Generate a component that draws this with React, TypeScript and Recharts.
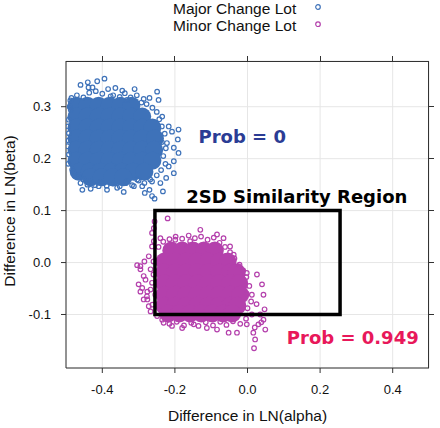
import React from "react";
import {
  ScatterChart,
  Scatter,
  XAxis,
  YAxis,
  CartesianGrid,
  ReferenceArea,
  ReferenceDot,
} from "recharts";

const seriesNames = ["Major Change Lot", "Minor Change Lot"];
const seriesColors = ["#3e72b9", "#b440ac"];

const xTicks = [-0.4, -0.2, 0, 0.2, 0.4];
const yTicks = [-0.1, 0, 0.1, 0.2, 0.3];
const xDomain = [-0.5, 0.5];
const yDomain = [-0.203, 0.388];

// dense, overplotted middle of each cloud
const majorCore: [number, number][] = [
  [-0.471, 0.302], [-0.441, 0.302], [-0.41, 0.302], [-0.38, 0.302], [-0.35, 0.302], [-0.32, 0.302],
  [-0.471, 0.281], [-0.441, 0.281], [-0.41, 0.281], [-0.38, 0.281], [-0.35, 0.281], [-0.32, 0.281], [-0.29, 0.281],
  [-0.471, 0.26], [-0.441, 0.26], [-0.41, 0.26], [-0.38, 0.26], [-0.35, 0.26], [-0.32, 0.26], [-0.29, 0.26], [-0.262, 0.26],
  [-0.471, 0.239], [-0.441, 0.239], [-0.41, 0.239], [-0.38, 0.239], [-0.35, 0.239], [-0.32, 0.239], [-0.29, 0.239], [-0.255, 0.239],
  [-0.471, 0.217], [-0.441, 0.217], [-0.41, 0.217], [-0.38, 0.217], [-0.35, 0.217], [-0.32, 0.217], [-0.29, 0.217], [-0.257, 0.217],
  [-0.471, 0.196], [-0.441, 0.196], [-0.41, 0.196], [-0.38, 0.196], [-0.35, 0.196], [-0.32, 0.196], [-0.29, 0.196], [-0.262, 0.196],
  [-0.465, 0.175], [-0.435, 0.175], [-0.405, 0.175], [-0.375, 0.175], [-0.345, 0.175], [-0.314, 0.175], [-0.284, 0.175],
  [-0.432, 0.164], [-0.402, 0.164], [-0.372, 0.164], [-0.342, 0.164],
];

const majorEdge: [number, number][] = [
  [-0.394, 0.354], [-0.414, 0.349], [-0.44, 0.347], [-0.46, 0.342], [-0.364, 0.336], [-0.311, 0.334], [-0.345, 0.331],
  [-0.249, 0.329], [-0.485, 0.317], [-0.286, 0.315], [-0.245, 0.313], [-0.27, 0.317], [-0.332, 0.313], [-0.377, 0.32],
  [-0.235, 0.281], [-0.217, 0.262], [-0.19, 0.256], [-0.208, 0.252], [-0.192, 0.237], [-0.203, 0.221], [-0.19, 0.211],
  [-0.203, 0.195], [-0.217, 0.185], [-0.203, 0.172], [-0.224, 0.163], [-0.24, 0.153], [-0.233, 0.137], [-0.263, 0.128],
  [-0.256, 0.123], [-0.27, 0.14], [-0.29, 0.147], [-0.283, 0.134],
  [-0.341, 0.136], [-0.387, 0.14], [-0.432, 0.142], [-0.455, 0.14], [-0.46, 0.153], [-0.441, 0.15], [-0.41, 0.147],
  [-0.359, 0.144], [-0.313, 0.147],
  [-0.492, 0.208], [-0.496, 0.224], [-0.492, 0.249], [-0.487, 0.294], [-0.492, 0.275], [-0.483, 0.179], [-0.474, 0.166],
  [-0.332, 0.156], [-0.304, 0.16], [-0.263, 0.156], [-0.222, 0.23], [-0.438, 0.337], [-0.427, 0.337],
  [-0.488, 0.312], [-0.47, 0.322], [-0.452, 0.318], [-0.436, 0.327], [-0.418, 0.33], [-0.4, 0.325], [-0.384, 0.334],
  [-0.37, 0.322], [-0.352, 0.319], [-0.338, 0.326], [-0.322, 0.318], [-0.305, 0.322], [-0.292, 0.308], [-0.278, 0.305],
  [-0.262, 0.298], [-0.25, 0.29],
  [-0.243, 0.276], [-0.236, 0.262], [-0.228, 0.248], [-0.236, 0.232], [-0.225, 0.22], [-0.232, 0.205], [-0.226, 0.19],
  [-0.238, 0.178], [-0.25, 0.168],
  [-0.268, 0.16], [-0.284, 0.153], [-0.3, 0.158], [-0.318, 0.149], [-0.335, 0.153], [-0.352, 0.147], [-0.37, 0.152],
  [-0.388, 0.148], [-0.405, 0.155], [-0.42, 0.149], [-0.438, 0.156], [-0.452, 0.16], [-0.468, 0.168], [-0.48, 0.175],
  [-0.494, 0.19], [-0.493, 0.235], [-0.495, 0.262], [-0.49, 0.3],
];

const minorCore: [number, number][] = [
  [-0.21, 0.023], [-0.18, 0.023], [-0.15, 0.023], [-0.12, 0.023], [-0.09, 0.023],
  [-0.229, 0.002], [-0.199, 0.002], [-0.169, 0.002], [-0.138, 0.002], [-0.108, 0.002], [-0.078, 0.002], [-0.055, 0.002],
  [-0.229, -0.019], [-0.199, -0.019], [-0.169, -0.019], [-0.138, -0.019], [-0.108, -0.019], [-0.078, -0.019], [-0.048, -0.019], [-0.03, -0.019],
  [-0.229, -0.04], [-0.199, -0.04], [-0.169, -0.04], [-0.138, -0.04], [-0.108, -0.04], [-0.078, -0.04], [-0.048, -0.04], [-0.023, -0.04],
  [-0.229, -0.062], [-0.199, -0.062], [-0.169, -0.062], [-0.138, -0.062], [-0.108, -0.062], [-0.078, -0.062], [-0.048, -0.062], [-0.02, -0.062],
  [-0.229, -0.083], [-0.199, -0.083], [-0.169, -0.083], [-0.138, -0.083], [-0.108, -0.083], [-0.078, -0.083], [-0.048, -0.083], [-0.028, -0.083],
  [-0.218, -0.098], [-0.188, -0.098], [-0.158, -0.098], [-0.127, -0.098], [-0.097, -0.098], [-0.067, -0.098], [-0.042, -0.098],
];

const minorEdge: [number, number][] = [
  [-0.22, 0.085], [-0.13, 0.063], [-0.256, 0.079], [-0.263, 0.057], [-0.24, 0.047], [-0.199, 0.044], [-0.158, 0.041],
  [-0.084, 0.054], [-0.066, 0.047], [-0.048, 0.031], [-0.038, 0.015], [-0.025, -0.007], [-0.002, -0.02], [0.026, -0.023],
  [0.04, -0.042], [0.044, -0.062], [0.047, -0.09], [0.044, -0.11], [0.049, -0.129], [0.03, -0.119], [0.016, -0.135],
  [0.021, -0.148], [0.018, -0.165], [-0.002, -0.119], [-0.029, -0.135], [-0.052, -0.135], [-0.084, -0.129], [-0.112, -0.126],
  [-0.148, -0.119], [-0.18, -0.126], [-0.208, -0.122], [-0.231, -0.116], [-0.249, -0.103], [-0.258, 0.066],
  [-0.304, -0.005], [-0.295, -0.007], [-0.286, -0.026], [-0.29, -0.049], [-0.277, -0.065], [-0.286, -0.071], [-0.272, -0.084],
  [-0.263, -0.039], [-0.267, -0.013], [-0.272, 0.012], [-0.263, 0.031], [-0.258, 0.041], [-0.295, -0.013], [-0.281, -0.033],
  [-0.267, -0.052], [-0.3, -0.042], [-0.276, -0.071], [-0.262, -0.081], [-0.267, -0.094], [-0.284, 0.002], [-0.259, 0.002],
  [-0.259, -0.023], [-0.276, -0.056], [-0.295, -0.056], [-0.254, -0.062],
  [-0.245, 0.03], [-0.232, 0.04], [-0.215, 0.045], [-0.198, 0.05], [-0.18, 0.046], [-0.162, 0.052], [-0.145, 0.047],
  [-0.128, 0.05], [-0.11, 0.044], [-0.093, 0.048], [-0.077, 0.038], [-0.062, 0.03], [-0.048, 0.02], [-0.036, 0.008],
  [-0.022, -0.004], [-0.012, -0.015],
  [-0.003, -0.028], [0.005, -0.045], [-0.002, -0.06], [0.01, -0.075], [0.0, -0.088], [0.012, -0.1], [-0.004, -0.108],
  [0.012, -0.062], [0.025, -0.08], [0.035, -0.1], [0.02, -0.125], [0.038, -0.115],
  [-0.02, -0.118], [-0.04, -0.113], [-0.058, -0.12], [-0.075, -0.114], [-0.095, -0.121], [-0.115, -0.115], [-0.135, -0.122],
  [-0.155, -0.116], [-0.175, -0.121], [-0.195, -0.114], [-0.215, -0.118], [-0.235, -0.11],
];

const toPoints = (rows: [number, number][]) => rows.map(([x, y]) => ({ x, y }));

const SANS = "'Liberation Sans', Arial, sans-serif";
const BOLD = "'DejaVu Sans', Verdana, sans-serif";
const fmt = (v: number) => v.toFixed(1);

// plot box in page pixels (the chart sits at 0,0)
const plot = { left: 66, top: 61, right: 429, bottom: 368 };
const px = (v: number) => plot.left + ((v - xDomain[0]) / (xDomain[1] - xDomain[0])) * (plot.right - plot.left);
const py = (v: number) => plot.top + ((yDomain[1] - v) / (yDomain[1] - yDomain[0])) * (plot.bottom - plot.top);

const ring = (color: string) => (p: any) => (
  <circle cx={p.cx} cy={p.cy} r={2.3} fill="none" stroke={color} strokeWidth={1.2} />
);
const blob = (color: string) => (p: any) => <circle cx={p.cx} cy={p.cy} r={9} fill={color} />;

const note = (text: string, color: string) => (p: any) => (
  <text x={p.cx} y={p.cy} fill={color} fontFamily={BOLD} fontWeight="bold" fontSize={18}>
    {text}
  </text>
);

const tickStyle = { fill: "#111", fontSize: 13, fontFamily: SANS };
const frame = { stroke: "#333", strokeWidth: 1 };

export default function App() {
  return (
    <div style={{ position: "absolute", left: 0, top: 0, width: 440, height: 428, background: "#fff" }}>
      <div style={{ position: "absolute", left: 173, top: -0.5, fontFamily: SANS, fontSize: 15.5, lineHeight: "17.2px", color: "#111" }}>
        {seriesNames.map((name) => (
          <div key={name}>{name}</div>
        ))}
      </div>
      <svg style={{ position: "absolute", left: 310, top: 0 }} width={20} height={34}>
        {seriesColors.map((c, i) => (
          <circle key={c} cx={8} cy={7 + i * 17.2} r={2.3} fill="none" stroke={c} strokeWidth={1.2} />
        ))}
      </svg>
      <ScatterChart width={440} height={428} margin={{ top: plot.top, right: 440 - plot.right, bottom: 0, left: 0 }}>
        <CartesianGrid stroke="#e6e6e6" />
        <XAxis
          type="number"
          dataKey="x"
          domain={xDomain}
          ticks={xTicks}
          tickFormatter={fmt}
          allowDataOverflow
          height={428 - plot.bottom}
          tickSize={5}
          tickMargin={12}
          axisLine={frame}
          tickLine={frame}
          tick={tickStyle}
          label={{
            content: (p: any) => (
              <text x={p.viewBox.x + p.viewBox.width / 2} y={421} textAnchor="middle" fontFamily={SANS} fontSize={15.5} fill="#111">
                Difference in LN(alpha)
              </text>
            ),
          }}
        />
        <YAxis
          type="number"
          dataKey="y"
          domain={yDomain}
          ticks={yTicks}
          tickFormatter={fmt}
          allowDataOverflow
          width={plot.left}
          tickSize={5}
          tickMargin={10}
          axisLine={frame}
          tickLine={frame}
          tick={tickStyle}
          label={{
            content: () => (
              <text x={15} y={211} transform="rotate(-90 15 211)" textAnchor="middle" fontFamily={SANS} fontSize={15.5} fill="#111">
                Difference in LN(beta)
              </text>
            ),
          }}
        />
        <Scatter data={toPoints(majorCore)} shape={blob(seriesColors[0])} isAnimationActive={false} />
        <Scatter data={toPoints(majorEdge)} shape={ring(seriesColors[0])} isAnimationActive={false} />
        <Scatter data={toPoints(minorCore)} shape={blob(seriesColors[1])} isAnimationActive={false} />
        <Scatter data={toPoints(minorEdge)} shape={ring(seriesColors[1])} isAnimationActive={false} />
        <ReferenceArea x1={-0.255} x2={0.255} y1={-0.1} y2={0.1} fill="none" fillOpacity={0} stroke="#000" strokeWidth={3.5} ifOverflow="visible" zIndex={1000} />
        <ReferenceDot x={-0.135} y={0.231} r={1} shape={note("Prob = 0", "#2b3c94")} ifOverflow="visible" zIndex={1000} />
        <ReferenceDot x={-0.1685} y={0.1154} r={1} shape={note("2SD Similarity Region", "#000")} ifOverflow="visible" zIndex={1000} />
        <ReferenceDot x={0.1083} y={-0.1577} r={1} shape={note("Prob = 0.949", "#e8185a")} ifOverflow="visible" zIndex={1000} />
      </ScatterChart>
      {/* lattice-style box: top and right sides, drawn as a css border */}
      <div
        style={{
          position: "absolute",
          left: plot.left,
          top: plot.top - 0.5,
          width: plot.right - plot.left,
          height: plot.bottom - plot.top,
          borderTop: "1px solid #333",
          borderRight: "1px solid #333",
          boxSizing: "border-box",
          pointerEvents: "none",
          zIndex: 10,
        }}
      />
      {xTicks.map((t) => (
        <div key={"tx" + t} style={{ position: "absolute", left: px(t) - 0.5, top: plot.top - 5, width: 1, height: 5, background: "#333", zIndex: 10 }} />
      ))}
      {yTicks.map((t) => (
        <div key={"ty" + t} style={{ position: "absolute", left: plot.right, top: py(t) - 0.5, width: 5, height: 1, background: "#333", zIndex: 10 }} />
      ))}
    </div>
  );
}
